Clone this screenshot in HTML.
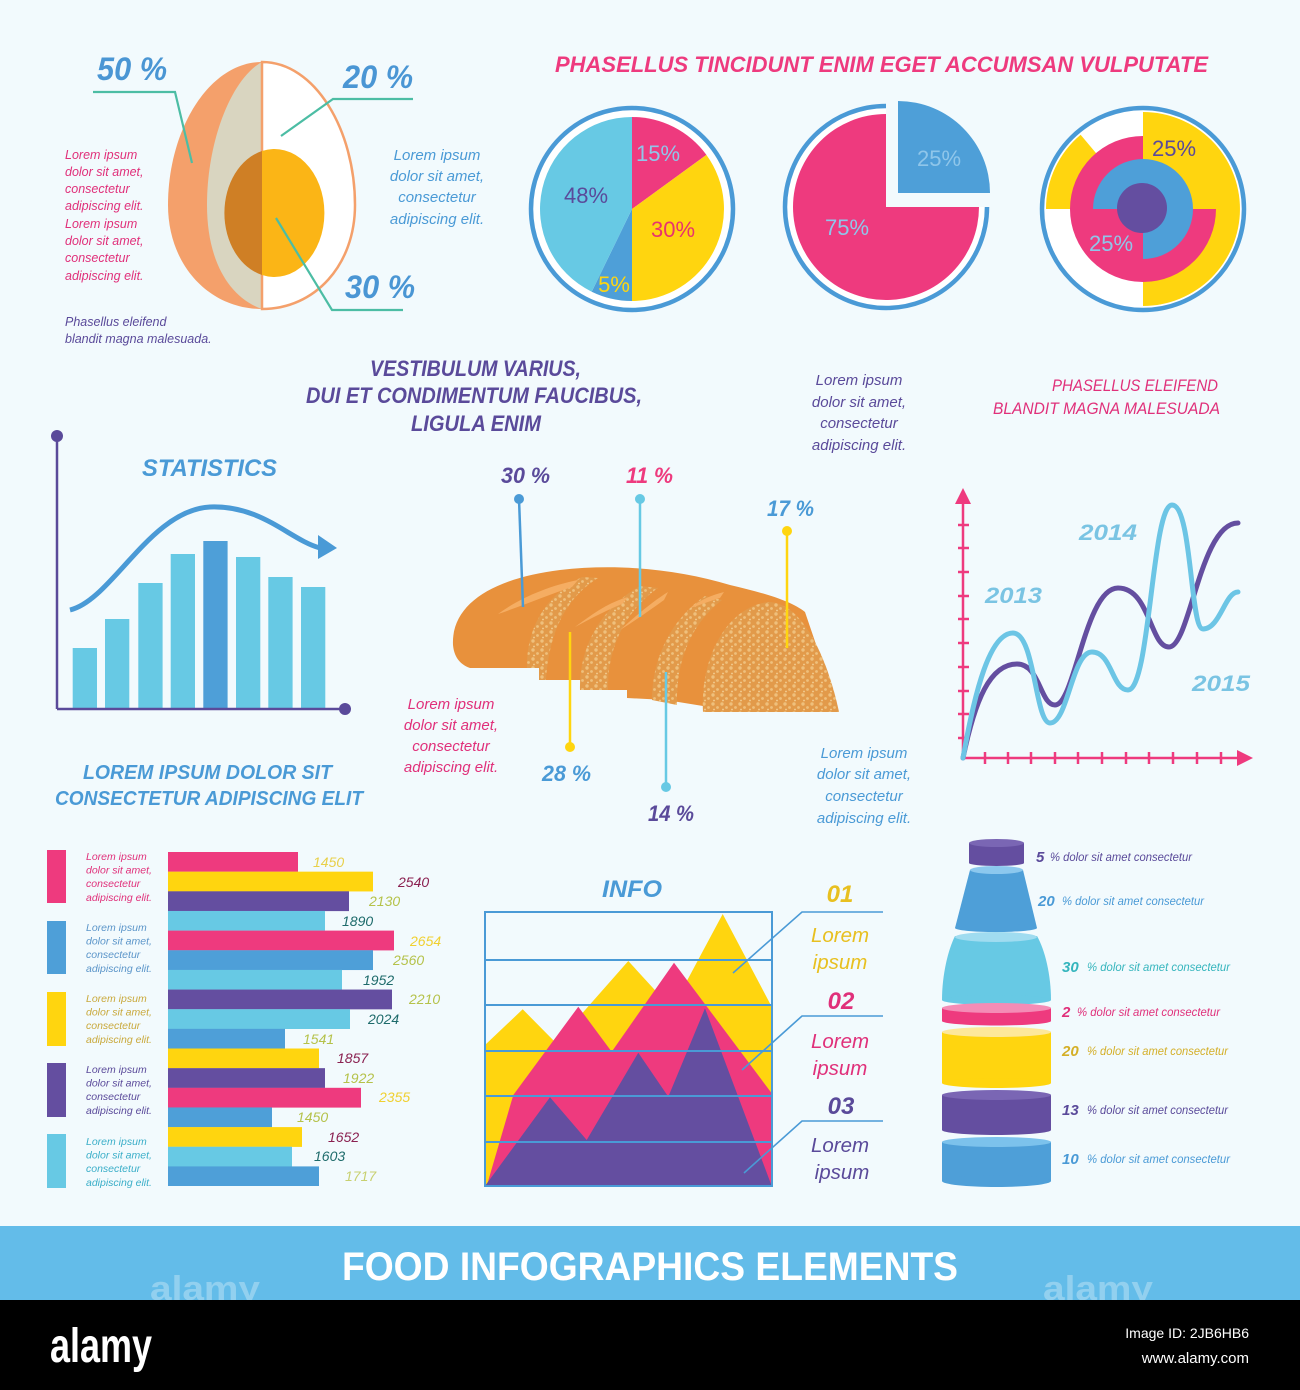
<!DOCTYPE html>
<html><head><meta charset="utf-8"><style>
html,body{margin:0;padding:0;background:#f2fafd;}
svg{display:block;}
text{font-family:"Liberation Sans",sans-serif;}
.bi{font-weight:bold;font-style:italic;}
.it{font-style:italic;}
</style></head><body>
<svg width="1300" height="1390" viewBox="0 0 1300 1390" xmlns="http://www.w3.org/2000/svg">
<defs>
<pattern id="crumb" width="9" height="9" patternUnits="userSpaceOnUse">
<rect width="9" height="9" fill="#e29a4a"/>
<circle cx="2" cy="2" r="1.7" fill="#efc07c"/>
<circle cx="6.5" cy="5.5" r="1.4" fill="#efc07c"/>
<circle cx="3" cy="7.5" r="0.9" fill="#f3cf95"/>
</pattern>
</defs>
<rect width="1300" height="1390" fill="#f2fafd"/>

<!-- ============ EGG ============ -->
<path d="M262,62 C209,62 168,130 168,205 C168,265 209,309 262,309 Z" fill="#f4a06b"/>
<path d="M262,62 C232,78 207,140 207,205 C207,262 230,298 262,309 Z" fill="#d9d5c0"/>
<path d="M262,62 C315,62 355,130 355,205 C355,265 315,309 262,309 Z" fill="#ffffff" stroke="#f4a06b" stroke-width="2.5"/>
<path d="M262,151 A50,64 0 0,0 262,275 Z" fill="#cf7f25"/>
<path d="M262,151 A50,64 0 1,1 262,275 Z" fill="#fbb516"/>
<polyline points="93,92 175,92 192,163" fill="none" stroke="#4cbda4" stroke-width="2.2"/>
<polyline points="413,99 333,99 281,136" fill="none" stroke="#4cbda4" stroke-width="2.2"/>
<polyline points="276,218 332,310 403,310" fill="none" stroke="#4cbda4" stroke-width="2.2"/>
<text x="97" y="80" font-size="32" class="bi" fill="#4a96d4" textLength="70" lengthAdjust="spacingAndGlyphs">50 %</text>
<text x="343" y="88" font-size="32" class="bi" fill="#4a96d4" textLength="70" lengthAdjust="spacingAndGlyphs">20 %</text>
<text x="345" y="298" font-size="32" class="bi" fill="#4a96d4" textLength="70" lengthAdjust="spacingAndGlyphs">30 %</text>
<g font-size="12.5" class="it" fill="#e0307a">
<text x="65" y="159">Lorem ipsum</text>
<text x="65" y="176">dolor sit amet,</text>
<text x="65" y="193">consectetur</text>
<text x="65" y="210">adipiscing elit.</text>
<text x="65" y="228">Lorem ipsum</text>
<text x="65" y="245">dolor sit amet,</text>
<text x="65" y="262">consectetur</text>
<text x="65" y="280">adipiscing elit.</text>
</g>
<g font-size="12.5" class="it" fill="#5a4a9a">
<text x="65" y="326">Phasellus eleifend</text>
<text x="65" y="343">blandit magna malesuada.</text>
</g>
<g font-size="15" class="it" fill="#4a9ad6" text-anchor="middle">
<text x="437" y="160">Lorem ipsum</text>
<text x="437" y="181">dolor sit amet,</text>
<text x="437" y="202">consectetur</text>
<text x="437" y="224">adipiscing elit.</text>
</g>

<!-- ============ TITLE ============ -->
<text x="555" y="72" font-size="22" class="bi" fill="#ee3a7e" textLength="653" lengthAdjust="spacingAndGlyphs">PHASELLUS TINCIDUNT ENIM EGET ACCUMSAN VULPUTATE</text>

<!-- ============ PIE 1 ============ -->
<circle cx="632" cy="209" r="99" fill="#ffffff"/>
<circle cx="632" cy="209" r="101" fill="none" stroke="#4a9ad6" stroke-width="4.5"/>
<path d="M632,209 L632,117 A92,92 0 0,1 706.4,154.9 Z" fill="#ee3a7e"/>
<path d="M632,209 L706.4,154.9 A92,92 0 0,1 632,301 Z" fill="#ffd50f"/>
<path d="M632,209 L632,301 A92,92 0 0,1 591.7,291.7 Z" fill="#4e9fd8"/>
<path d="M632,209 L591.7,291.7 A92,92 0 0,1 632,117 Z" fill="#67c9e4"/>
<g font-size="22" text-anchor="middle">
<text x="658" y="161" fill="#8fc6ea">15%</text>
<text x="673" y="237" fill="#e8336d">30%</text>
<text x="586" y="203" fill="#5a4a9a">48%</text>
<text x="614" y="292" fill="#ffd50f">5%</text>
</g>

<!-- ============ PIE 2 ============ -->
<path d="M886,207 L985,207 A99,99 0 1,1 886,108 Z" fill="#ffffff"/>
<path d="M886,106 A101,101 0 1,0 987,207" fill="none" stroke="#4a9ad6" stroke-width="4.5"/>
<path d="M886,207 L979,207 A93,93 0 1,1 886,114 Z" fill="#ee3a7e"/>
<path d="M898,193 L898,101 A92,92 0 0,1 990,193 Z" fill="#4e9fd8"/>
<g font-size="22" text-anchor="middle" fill="#8fc6ea">
<text x="939" y="166">25%</text>
<text x="847" y="235">75%</text>
</g>

<!-- ============ PIE 3 ============ -->
<circle cx="1143" cy="209" r="99" fill="#ffffff"/>
<circle cx="1143" cy="209" r="101" fill="none" stroke="#4a9ad6" stroke-width="4.5"/>
<path d="M1143,209 L1143,112 A97,97 0 0,1 1143,306 Z" fill="#ffd50f"/>
<path d="M1143,209 L1046,209 A97,97 0 0,1 1080.6,134.7 Z" fill="#ffd50f"/>
<path d="M1143,209 L1216,209 A73,73 0 1,1 1143,136 Z" fill="#ee3a7e"/>
<path d="M1143,209 L1093,209 A50,50 0 1,1 1143,259 Z" fill="#4e9fd8"/>
<circle cx="1142" cy="208" r="25" fill="#644ea0"/>
<g font-size="22" text-anchor="middle">
<text x="1174" y="156" fill="#5a4a9a">25%</text>
<text x="1111" y="251" fill="#8fc6ea">25%</text>
</g>

<!-- ============ MIDDLE HEADINGS ============ -->
<g font-size="22" class="bi" fill="#5a4a9a">
<text x="370" y="376" textLength="211" lengthAdjust="spacingAndGlyphs">VESTIBULUM VARIUS,</text>
<text x="306" y="403" textLength="336" lengthAdjust="spacingAndGlyphs">DUI ET CONDIMENTUM FAUCIBUS,</text>
<text x="411" y="431" textLength="130" lengthAdjust="spacingAndGlyphs">LIGULA ENIM</text>
</g>
<g font-size="15" class="it" fill="#5a4a9a" text-anchor="middle">
<text x="859" y="385">Lorem ipsum</text>
<text x="859" y="407">dolor sit amet,</text>
<text x="859" y="428">consectetur</text>
<text x="859" y="450">adipiscing elit.</text>
</g>
<g font-size="17" class="it" fill="#e0307a">
<text x="1052" y="391" textLength="166" lengthAdjust="spacingAndGlyphs">PHASELLUS ELEIFEND</text>
<text x="993" y="414" textLength="227" lengthAdjust="spacingAndGlyphs">BLANDIT MAGNA MALESUADA</text>
</g>

<!-- ============ STATISTICS ============ -->
<text x="142" y="476" font-size="24" class="bi" fill="#4a9ad6" textLength="135" lengthAdjust="spacingAndGlyphs">STATISTICS</text>
<g fill="#67c9e4">
<rect x="72.7" y="648" width="24.3" height="61"/>
<rect x="105" y="619" width="24.3" height="90"/>
<rect x="138.3" y="583" width="24.3" height="126"/>
<rect x="170.7" y="554" width="24.3" height="155"/>
<rect x="203.3" y="541" width="24.3" height="168" fill="#4e9fd8"/>
<rect x="236" y="557" width="24.3" height="152"/>
<rect x="268.3" y="577" width="24.3" height="132"/>
<rect x="301" y="587" width="24.3" height="122"/>
</g>
<line x1="57" y1="436" x2="57" y2="709" stroke="#5a4a9a" stroke-width="2.5"/>
<line x1="57" y1="709" x2="345" y2="709" stroke="#5a4a9a" stroke-width="2.5"/>
<circle cx="57" cy="436" r="6" fill="#5a4a9a"/>
<circle cx="345" cy="709" r="6" fill="#5a4a9a"/>
<path d="M70,610 C112,600 150,510 210,507 C262,505 290,540 320,548" fill="none" stroke="#4a9ad6" stroke-width="5"/>
<polygon points="318,535 337,548 318,559" fill="#4a9ad6"/>
<g font-size="20" class="bi" fill="#4a9ad6">
<text x="83" y="779" textLength="249" lengthAdjust="spacingAndGlyphs">LOREM IPSUM DOLOR SIT</text>
<text x="55" y="805" textLength="308" lengthAdjust="spacingAndGlyphs">CONSECTETUR ADIPISCING ELIT</text>
</g>

<!-- ============ BREAD ============ -->
<path d="M453,645 C451,603 495,578 560,570 C620,563 680,570 730,585 C760,592 790,600 805,612 L839,712 L703,712 L703,706 L666,700 L627,698 L627,690 L594,690 L594,680 L539,680 L539,668 L470,668 C459,664 454,656 453,645 Z" fill="#e8913c"/>
<path d="M527,668 C526,630 545,595 582,577 L598,578 C566,598 549,632 546,680 L539,680 L539,668 Z" fill="url(#crumb)"/>
<path d="M580,690 C579,650 598,610 640,586 L658,588 C624,612 607,650 608,690 Z" fill="url(#crumb)"/>
<path d="M652,700 C652,660 670,620 705,596 L722,600 C690,625 676,662 677,705 Z" fill="url(#crumb)"/>
<path d="M703,712 C700,660 725,608 768,602 C803,602 828,660 839,712 Z" fill="url(#crumb)"/>
<g fill="#f5ad62">
<path d="M498,614 C520,598 548,586 578,580 L572,587 C548,595 522,606 498,614 Z"/>
<path d="M575,627 C595,612 610,602 628,597 L622,604 C605,611 590,619 575,627 Z"/>
<path d="M620,630 C640,612 655,600 668,592 L664,600 C650,610 636,620 620,630 Z"/>
<path d="M690,608 C700,600 712,595 724,592 L720,598 C710,601 700,605 690,608 Z"/>
</g>
<line x1="519" y1="499" x2="523" y2="607" stroke="#4a9ad6" stroke-width="2.5"/>
<circle cx="519" cy="499" r="5" fill="#4a9ad6"/>
<line x1="640" y1="499" x2="640" y2="617" stroke="#67c9e4" stroke-width="2.5"/>
<circle cx="640" cy="499" r="5" fill="#67c9e4"/>
<line x1="787" y1="531" x2="787" y2="648" stroke="#ffd50f" stroke-width="2.5"/>
<circle cx="787" cy="531" r="5" fill="#ffd50f"/>
<line x1="570" y1="632" x2="570" y2="747" stroke="#ffd50f" stroke-width="2.5"/>
<circle cx="570" cy="747" r="5" fill="#ffd50f"/>
<line x1="666" y1="672" x2="666" y2="787" stroke="#67c9e4" stroke-width="2.5"/>
<circle cx="666" cy="787" r="5" fill="#67c9e4"/>
<g font-size="22" class="bi">
<text x="501" y="483" fill="#5a4a9a" textLength="49" lengthAdjust="spacingAndGlyphs">30 %</text>
<text x="626" y="483" fill="#ee3a7e" textLength="47" lengthAdjust="spacingAndGlyphs">11 %</text>
<text x="767" y="516" fill="#4a9ad6" textLength="47" lengthAdjust="spacingAndGlyphs">17 %</text>
<text x="542" y="781" fill="#4a9ad6" textLength="49" lengthAdjust="spacingAndGlyphs">28 %</text>
<text x="648" y="821" fill="#5a4a9a" textLength="46" lengthAdjust="spacingAndGlyphs">14 %</text>
</g>
<g font-size="15" class="it" fill="#e0307a" text-anchor="middle">
<text x="451" y="709">Lorem ipsum</text>
<text x="451" y="730">dolor sit amet,</text>
<text x="451" y="751">consectetur</text>
<text x="451" y="772">adipiscing elit.</text>
</g>
<g font-size="15" class="it" fill="#4a9ad6" text-anchor="middle">
<text x="864" y="758">Lorem ipsum</text>
<text x="864" y="779">dolor sit amet,</text>
<text x="864" y="801">consectetur</text>
<text x="864" y="823">adipiscing elit.</text>
</g>

<!-- ============ LINE CHART ============ -->
<g stroke="#ee3a7e" stroke-width="2.5">
<line x1="963" y1="500" x2="963" y2="758"/>
<line x1="963" y1="758" x2="1240" y2="758"/>
<line x1="958" y1="525" x2="969" y2="525"/>
<line x1="958" y1="548" x2="969" y2="548"/>
<line x1="958" y1="572" x2="969" y2="572"/>
<line x1="958" y1="596" x2="969" y2="596"/>
<line x1="958" y1="619" x2="969" y2="619"/>
<line x1="958" y1="643" x2="969" y2="643"/>
<line x1="958" y1="667" x2="969" y2="667"/>
<line x1="958" y1="691" x2="969" y2="691"/>
<line x1="958" y1="714" x2="969" y2="714"/>
<line x1="958" y1="738" x2="969" y2="738"/>
<line x1="985" y1="752" x2="985" y2="764"/>
<line x1="1008" y1="752" x2="1008" y2="764"/>
<line x1="1031" y1="752" x2="1031" y2="764"/>
<line x1="1055" y1="752" x2="1055" y2="764"/>
<line x1="1078" y1="752" x2="1078" y2="764"/>
<line x1="1102" y1="752" x2="1102" y2="764"/>
<line x1="1126" y1="752" x2="1126" y2="764"/>
<line x1="1149" y1="752" x2="1149" y2="764"/>
<line x1="1173" y1="752" x2="1173" y2="764"/>
<line x1="1197" y1="752" x2="1197" y2="764"/>
<line x1="1221" y1="752" x2="1221" y2="764"/>
</g>
<polygon points="963,488 955,504 971,504" fill="#ee3a7e"/>
<polygon points="1253,758 1237,750 1237,766" fill="#ee3a7e"/>
<path d="M963,758 C975,700 990,664 1017,664 C1040,664 1040,705 1055,705 C1075,705 1085,588 1118,588 C1150,588 1150,647 1169,647 C1190,647 1200,523 1238,523" fill="none" stroke="#644ea0" stroke-width="5" stroke-linecap="round"/>
<path d="M963,758 C975,690 990,633 1013,633 C1035,633 1035,723 1050,723 C1068,723 1072,652 1092,652 C1112,652 1112,690 1128,690 C1150,690 1152,505 1172,505 C1192,505 1190,629 1203,629 C1220,629 1225,592 1238,592" fill="none" stroke="#6cc5e5" stroke-width="5" stroke-linecap="round"/>
<g font-size="22" class="bi" fill="#7ac4e3">
<text x="985" y="603" textLength="57" lengthAdjust="spacingAndGlyphs">2013</text>
<text x="1079" y="540" textLength="58" lengthAdjust="spacingAndGlyphs">2014</text>
<text x="1192" y="691" textLength="58" lengthAdjust="spacingAndGlyphs">2015</text>
</g>

<!-- ============ HORIZONTAL BARS ============ -->
<rect x="47" y="850" width="19" height="53" fill="#ee3a7e"/>
<rect x="47" y="921" width="19" height="53" fill="#4e9fd8"/>
<rect x="47" y="992" width="19" height="54" fill="#ffd50f"/>
<rect x="47" y="1063" width="19" height="54" fill="#644ea0"/>
<rect x="47" y="1134" width="19" height="54" fill="#67c9e4"/>
<g font-size="10.5" class="it">
<g fill="#e0307a"><text x="86" y="860">Lorem ipsum</text><text x="86" y="873.6">dolor sit amet,</text><text x="86" y="887.2">consectetur</text><text x="86" y="900.8">adipiscing elit.</text></g>
<g fill="#5b95c9"><text x="86" y="931">Lorem ipsum</text><text x="86" y="944.6">dolor sit amet,</text><text x="86" y="958.2">consectetur</text><text x="86" y="971.8">adipiscing elit.</text></g>
<g fill="#c9a93c"><text x="86" y="1002">Lorem ipsum</text><text x="86" y="1015.6">dolor sit amet,</text><text x="86" y="1029.2">consectetur</text><text x="86" y="1042.8">adipiscing elit.</text></g>
<g fill="#5a4a9a"><text x="86" y="1073">Lorem ipsum</text><text x="86" y="1086.6">dolor sit amet,</text><text x="86" y="1100.2">consectetur</text><text x="86" y="1113.8">adipiscing elit.</text></g>
<g fill="#3aaec8"><text x="86" y="1145">Lorem ipsum</text><text x="86" y="1158.6">dolor sit amet,</text><text x="86" y="1172.2">consectetur</text><text x="86" y="1185.8">adipiscing elit.</text></g>
</g>
<rect x="168" y="852" width="130" height="19.8" fill="#ee3a7e"/>
<rect x="168" y="871.65" width="205" height="19.8" fill="#ffd50f"/>
<rect x="168" y="891.3" width="181" height="19.8" fill="#644ea0"/>
<rect x="168" y="910.95" width="157" height="19.8" fill="#67c9e4"/>
<rect x="168" y="930.6" width="226" height="19.8" fill="#ee3a7e"/>
<rect x="168" y="950.25" width="205" height="19.8" fill="#4e9fd8"/>
<rect x="168" y="969.9" width="174" height="19.8" fill="#67c9e4"/>
<rect x="168" y="989.55" width="224" height="19.8" fill="#644ea0"/>
<rect x="168" y="1009.2" width="182" height="19.8" fill="#67c9e4"/>
<rect x="168" y="1028.85" width="117" height="19.8" fill="#4e9fd8"/>
<rect x="168" y="1048.5" width="151" height="19.8" fill="#ffd50f"/>
<rect x="168" y="1068.15" width="157" height="19.8" fill="#644ea0"/>
<rect x="168" y="1087.8" width="193" height="19.8" fill="#ee3a7e"/>
<rect x="168" y="1107.45" width="104" height="19.8" fill="#4e9fd8"/>
<rect x="168" y="1127.1" width="134" height="19.8" fill="#ffd50f"/>
<rect x="168" y="1146.75" width="124" height="19.8" fill="#67c9e4"/>
<rect x="168" y="1166.4" width="151" height="19.6" fill="#4e9fd8"/>
<g font-size="14" class="it">
<text x="313" y="867" fill="#e8d04a">1450</text>
<text x="398" y="887" fill="#8a2050">2540</text>
<text x="369" y="906" fill="#b5c24a">2130</text>
<text x="342" y="926" fill="#1e6b6b">1890</text>
<text x="410" y="946" fill="#f0d030">2654</text>
<text x="393" y="965" fill="#b5c24a">2560</text>
<text x="363" y="985" fill="#1e6b6b">1952</text>
<text x="409" y="1004" fill="#b5c24a">2210</text>
<text x="368" y="1024" fill="#1e6b6b">2024</text>
<text x="303" y="1044" fill="#b5c24a">1541</text>
<text x="337" y="1063" fill="#8a2050">1857</text>
<text x="343" y="1083" fill="#b5c24a">1922</text>
<text x="379" y="1102" fill="#f0d030">2355</text>
<text x="297" y="1122" fill="#b5c24a">1450</text>
<text x="328" y="1142" fill="#8a2050">1652</text>
<text x="314" y="1161" fill="#1e6b6b">1603</text>
<text x="345" y="1181" fill="#c8d070">1717</text>
</g>

<!-- ============ INFO ============ -->
<text x="602" y="897" font-size="24" class="bi" fill="#4a9ad6" textLength="60" lengthAdjust="spacingAndGlyphs">INFO</text>
<polygon points="485,1186 485,1045 522.7,1009.3 556,1043 628.3,961 672,1008.7 722.7,914 771.7,1006.7 771.7,1186" fill="#ffd50f"/>
<polygon points="486.7,1186 513.3,1095 578.3,1006.7 611.7,1051.7 674,962.7 771.7,1093.3 771.7,1186" fill="#ee3a7e"/>
<polygon points="485,1186 550,1097.3 586.7,1140 638.3,1052.7 668.3,1096.7 705,1008.3 771.7,1186" fill="#644ea0"/>
<g stroke="#4a9ad6" stroke-width="2" fill="none">
<rect x="485" y="912" width="287" height="274"/>
<line x1="485" y1="960" x2="772" y2="960"/>
<line x1="485" y1="1005" x2="772" y2="1005"/>
<line x1="485" y1="1051" x2="772" y2="1051"/>
<line x1="485" y1="1096" x2="772" y2="1096"/>
<line x1="485" y1="1142" x2="772" y2="1142"/>
</g>
<g stroke="#4a9ad6" stroke-width="1.6" fill="none">
<polyline points="733,973 802,912 883,912"/>
<polyline points="742,1070 802,1016 883,1016"/>
<polyline points="744,1173 802,1121 883,1121"/>
</g>
<g text-anchor="middle">
<text x="840" y="902" font-size="24" class="bi" fill="#e8c020">01</text>
<text x="840" y="942" font-size="20.5" class="it" fill="#e8c020">Lorem</text>
<text x="840" y="969" font-size="20.5" class="it" fill="#e8c020">ipsum</text>
<text x="841" y="1009" font-size="24" class="bi" fill="#e0307a">02</text>
<text x="840" y="1048" font-size="20.5" class="it" fill="#e0307a">Lorem</text>
<text x="840" y="1075" font-size="20.5" class="it" fill="#e0307a">ipsum</text>
<text x="841" y="1114" font-size="24" class="bi" fill="#5a4a9a">03</text>
<text x="840" y="1152" font-size="20.5" class="it" fill="#5a4a9a">Lorem</text>
<text x="842" y="1179" font-size="20.5" class="it" fill="#5a4a9a">ipsum</text>
</g>

<!-- ============ BOTTLE ============ -->
<rect x="969" y="843" width="55" height="20" fill="#644ea0"/>
<ellipse cx="996.5" cy="863" rx="27.5" ry="3" fill="#644ea0"/>
<ellipse cx="996.5" cy="843" rx="27.5" ry="4" fill="#7a66b4"/>
<path d="M970,870 L1023,870 L1037,928 L955,928 Z" fill="#4e9fd8"/>
<ellipse cx="996" cy="928" rx="41" ry="4" fill="#4e9fd8"/>
<ellipse cx="996.5" cy="870" rx="26.5" ry="4" fill="#8cc8ee"/>
<path d="M955,936 L1037,936 C1045,950 1051,975 1051,1000 L942,1000 C942,975 948,950 955,936 Z" fill="#67c9e4"/>
<ellipse cx="996.5" cy="1000" rx="54.5" ry="5" fill="#67c9e4"/>
<ellipse cx="996" cy="937" rx="41" ry="5" fill="#a0dcf0"/>
<rect x="942" y="1008" width="109" height="13" fill="#ee3a7e"/>
<ellipse cx="996.5" cy="1021" rx="54.5" ry="4.5" fill="#ee3a7e"/>
<ellipse cx="996.5" cy="1008" rx="54.5" ry="5" fill="#f48cb6"/>
<rect x="942" y="1032" width="109" height="51" fill="#ffd50f"/>
<ellipse cx="996.5" cy="1083" rx="54.5" ry="5" fill="#ffd50f"/>
<ellipse cx="996.5" cy="1032" rx="54.5" ry="5" fill="#fde89a"/>
<rect x="942" y="1095" width="109" height="35" fill="#644ea0"/>
<ellipse cx="996.5" cy="1130" rx="54.5" ry="5" fill="#644ea0"/>
<ellipse cx="996.5" cy="1095" rx="54.5" ry="5" fill="#7a66b4"/>
<rect x="942" y="1142" width="109" height="39" fill="#4e9fd8"/>
<ellipse cx="996.5" cy="1181" rx="54.5" ry="6" fill="#4e9fd8"/>
<ellipse cx="996.5" cy="1142" rx="54.5" ry="5" fill="#7cc2ec"/>
<g class="bi" font-size="15">
<text x="1036" y="862" fill="#5a4a9a">5</text>
<text x="1038" y="906" fill="#4a9ad6">20</text>
<text x="1062" y="972" fill="#35b5bd">30</text>
<text x="1062" y="1017" fill="#e0307a">2</text>
<text x="1062" y="1056" fill="#d4af28">20</text>
<text x="1062" y="1115" fill="#5a4a9a">13</text>
<text x="1062" y="1164" fill="#4a9ad6">10</text>
</g>
<g class="it" font-size="11.5">
<text x="1050" y="861" fill="#5a4a9a" textLength="142" lengthAdjust="spacingAndGlyphs">% dolor sit amet consectetur</text>
<text x="1062" y="905" fill="#4a9ad6" textLength="142" lengthAdjust="spacingAndGlyphs">% dolor sit amet consectetur</text>
<text x="1087" y="971" fill="#35b5bd" textLength="143" lengthAdjust="spacingAndGlyphs">% dolor sit amet consectetur</text>
<text x="1077" y="1016" fill="#e0307a" textLength="143" lengthAdjust="spacingAndGlyphs">% dolor sit amet consectetur</text>
<text x="1087" y="1055" fill="#d4af28" textLength="141" lengthAdjust="spacingAndGlyphs">% dolor sit amet consectetur</text>
<text x="1087" y="1114" fill="#5a4a9a" textLength="141" lengthAdjust="spacingAndGlyphs">% dolor sit amet consectetur</text>
<text x="1087" y="1163" fill="#4a9ad6" textLength="143" lengthAdjust="spacingAndGlyphs">% dolor sit amet consectetur</text>
</g>

<!-- ============ BANNER ============ -->
<rect x="0" y="1226" width="1300" height="74" fill="#63bce9"/>
<g font-size="34" font-weight="bold" fill="#ffffff" fill-opacity="0.3">
<text x="150" y="1300" textLength="110" lengthAdjust="spacingAndGlyphs">alamy</text>
<text x="1043" y="1300" textLength="110" lengthAdjust="spacingAndGlyphs">alamy</text>
</g>
<text x="342" y="1280" font-size="40" font-weight="bold" fill="#ffffff" textLength="616" lengthAdjust="spacingAndGlyphs">FOOD INFOGRAPHICS ELEMENTS</text>

<!-- ============ FOOTER ============ -->
<rect x="0" y="1300" width="1300" height="90" fill="#000000"/>
<text x="50" y="1362" font-size="48" font-weight="bold" fill="#ffffff" textLength="102" lengthAdjust="spacingAndGlyphs">alamy</text>
<text x="1249" y="1338" font-size="14" fill="#ffffff" text-anchor="end">Image ID: 2JB6HB6</text>
<text x="1249" y="1363" font-size="15" fill="#ffffff" text-anchor="end">www.alamy.com</text>
</svg>
</body></html>
